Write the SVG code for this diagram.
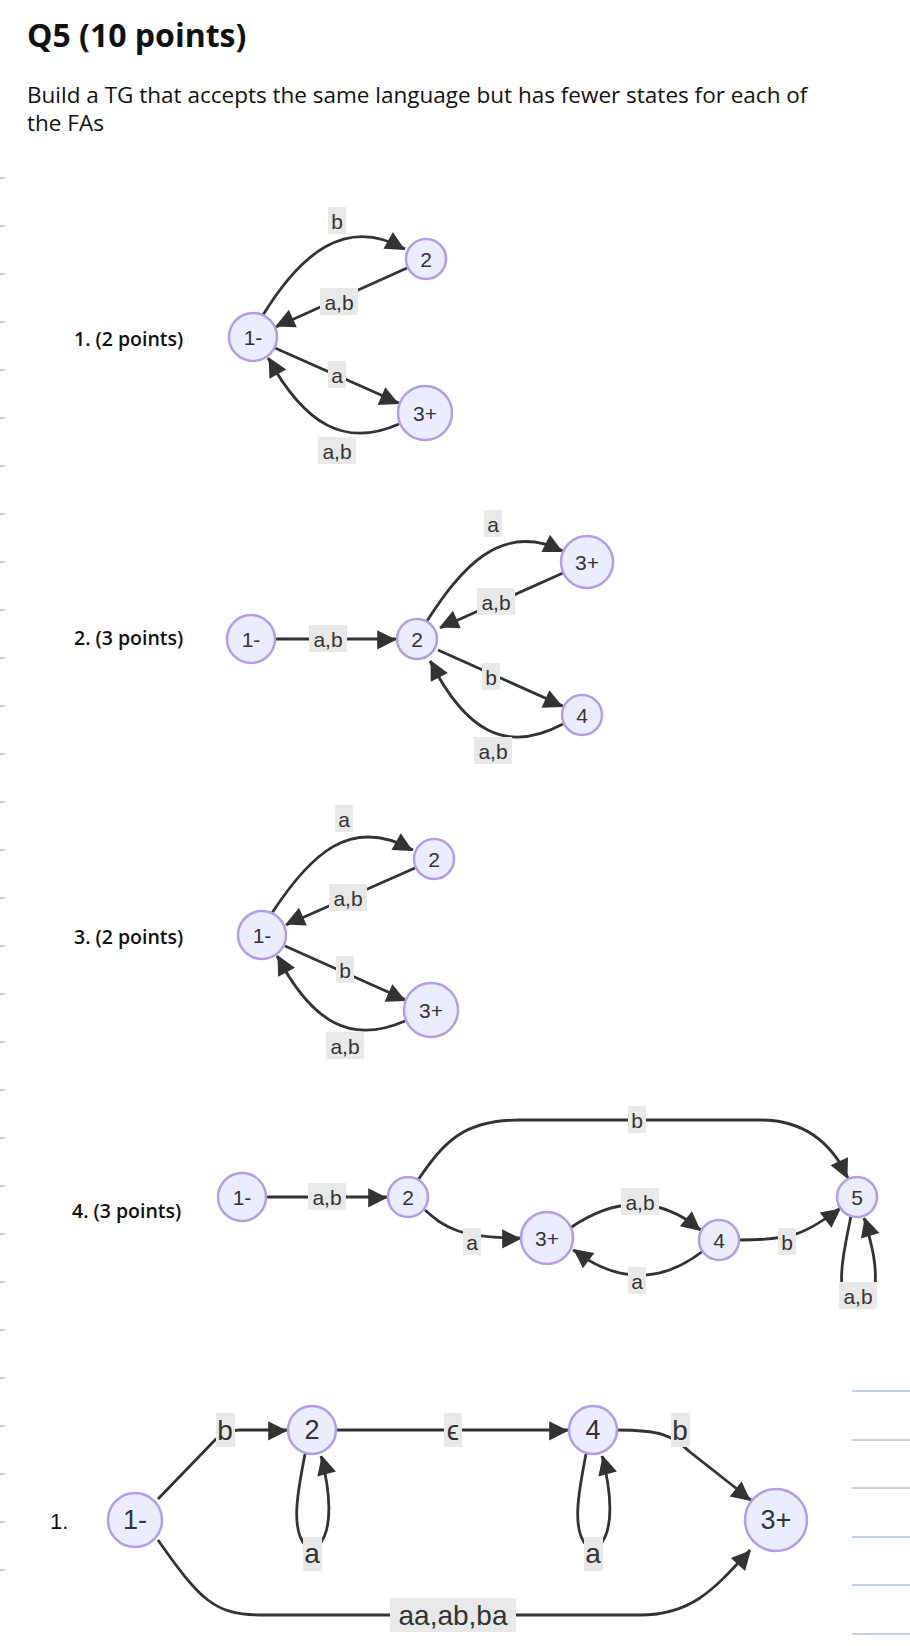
<svg xmlns="http://www.w3.org/2000/svg" width="910" height="1646" viewBox="0 0 910 1646">
<style>
.n{fill:#ececff;stroke:#b39ce8;stroke-width:2.5}
.nt{font-family:"Liberation Sans",Arial,sans-serif;font-size:21px;fill:#333;text-anchor:middle;dominant-baseline:central}
.nb{font-size:27px}
.e{fill:none;stroke:#333;stroke-width:2.8}
.lb{fill:#e8e8e8}
.lt{font-family:"Liberation Sans",Arial,sans-serif;font-size:21px;fill:#333;text-anchor:middle;dominant-baseline:central}
.lg{font-size:28px}
.q{font-family:"Open Sans","Noto Sans",sans-serif;fill:#111}
.tick{stroke:#8fa0c8;stroke-width:1}
</style>
<defs>
<marker id="ah" viewBox="0 0 10 10" refX="9" refY="5" markerWidth="6" markerHeight="6" markerUnits="userSpaceOnUse" orient="auto" style="overflow:visible">
<path d="M0,0 L10,5 L0,10 z" fill="#333" transform="scale(3.2) translate(-7,-3)"/>
</marker>
</defs>
<rect width="910" height="1646" fill="#fff"/>
<text class="q" x="27" y="47" font-size="32" font-weight="bold">Q5 (10 points)</text>
<text class="q" x="27" y="103" font-size="22.5">Build a TG that accepts the same language but has fewer states for each of</text>
<text class="q" x="27" y="131" font-size="22.5">the FAs</text>
<g id="ticks">
<line class="tick" x1="0" y1="178" x2="5" y2="178"/><line class="tick" x1="0" y1="226" x2="5" y2="226"/><line class="tick" x1="0" y1="274" x2="5" y2="274"/><line class="tick" x1="0" y1="322" x2="5" y2="322"/><line class="tick" x1="0" y1="370" x2="5" y2="370"/><line class="tick" x1="0" y1="418" x2="5" y2="418"/><line class="tick" x1="0" y1="466" x2="5" y2="466"/><line class="tick" x1="0" y1="514" x2="5" y2="514"/><line class="tick" x1="0" y1="562" x2="5" y2="562"/><line class="tick" x1="0" y1="610" x2="5" y2="610"/><line class="tick" x1="0" y1="658" x2="5" y2="658"/><line class="tick" x1="0" y1="706" x2="5" y2="706"/><line class="tick" x1="0" y1="754" x2="5" y2="754"/><line class="tick" x1="0" y1="802" x2="5" y2="802"/><line class="tick" x1="0" y1="850" x2="5" y2="850"/><line class="tick" x1="0" y1="898" x2="5" y2="898"/><line class="tick" x1="0" y1="946" x2="5" y2="946"/><line class="tick" x1="0" y1="994" x2="5" y2="994"/><line class="tick" x1="0" y1="1042" x2="5" y2="1042"/><line class="tick" x1="0" y1="1090" x2="5" y2="1090"/><line class="tick" x1="0" y1="1138" x2="5" y2="1138"/><line class="tick" x1="0" y1="1186" x2="5" y2="1186"/><line class="tick" x1="0" y1="1234" x2="5" y2="1234"/><line class="tick" x1="0" y1="1282" x2="5" y2="1282"/><line class="tick" x1="0" y1="1330" x2="5" y2="1330"/><line class="tick" x1="0" y1="1378" x2="5" y2="1378"/><line class="tick" x1="0" y1="1426" x2="5" y2="1426"/><line class="tick" x1="0" y1="1474" x2="5" y2="1474"/><line class="tick" x1="0" y1="1522" x2="5" y2="1522"/><line class="tick" x1="0" y1="1570" x2="5" y2="1570"/>
<line class="tick" x1="852" y1="1391" x2="910" y2="1391"/><line class="tick" x1="852" y1="1440" x2="910" y2="1440"/><line class="tick" x1="852" y1="1488" x2="910" y2="1488"/><line class="tick" x1="852" y1="1537" x2="910" y2="1537"/><line class="tick" x1="852" y1="1585" x2="910" y2="1585"/><line class="tick" x1="852" y1="1634" x2="910" y2="1634"/>
</g>
<g class="q" font-size="19.5" font-weight="600">
<text x="74" y="346">1.  (2 points)</text>
<text x="74" y="645">2.  (3 points)</text>
<text x="74" y="944">3.  (2 points)</text>
<text x="72" y="1218">4.  (3 points)</text>
<text x="50" y="1529" font-family="Liberation Sans,sans-serif" font-weight="normal" font-size="22">1.</text>
</g>
<g id="connectors">
<path class="e" d="M263,315 C300,255 345,215 405,249" marker-end="url(#ah)"/>
<path class="e" d="M407,268 L276,327" marker-end="url(#ah)"/>
<path class="e" d="M275,348 L399,403" marker-end="url(#ah)"/>
<path class="e" d="M399,424 C345,448 305,425 268,358" marker-end="url(#ah)"/>
<path class="e" d="M274,639 L396,639" marker-end="url(#ah)"/>
<path class="e" d="M427,621 C460,570 500,520 563,551" marker-end="url(#ah)"/>
<path class="e" d="M563,573 L440,628" marker-end="url(#ah)"/>
<path class="e" d="M438,650 L563,706" marker-end="url(#ah)"/>
<path class="e" d="M563,724 C505,755 465,730 430,661" marker-end="url(#ah)"/>
<path class="e" d="M272,913 C310,855 350,815 413,850" marker-end="url(#ah)"/>
<path class="e" d="M415,868 L286,925" marker-end="url(#ah)"/>
<path class="e" d="M285,946 L406,1000" marker-end="url(#ah)"/>
<path class="e" d="M405,1021 C350,1045 312,1022 277,956" marker-end="url(#ah)"/>
<path class="e" d="M265,1197 L387,1197" marker-end="url(#ah)"/>
<path class="e" d="M418,1180 C445,1140 465,1120 520,1120 L760,1120 C810,1120 835,1150 848,1178" marker-end="url(#ah)"/>
<path class="e" d="M425,1210 C445,1228 460,1238 521,1238" marker-end="url(#ah)"/>
<path class="e" d="M570,1228 Q640,1180 701,1230" marker-end="url(#ah)"/>
<path class="e" d="M703,1251 Q640,1300 573,1250" marker-end="url(#ah)"/>
<path class="e" d="M739,1240 C790,1240 805,1235 840,1208" marker-end="url(#ah)"/>
<path class="e" d="M851,1216 C845,1245 840,1270 842,1285"/>
<path class="e" d="M875,1285 C877,1265 872,1245 864,1218" marker-end="url(#ah)"/>
<path class="e" d="M158,1499 L215,1440 Q225,1430 240,1430 L287,1430" marker-end="url(#ah)"/>
<path class="e" d="M336,1430 L568,1430" marker-end="url(#ah)"/>
<path class="e" d="M617,1430 C660,1430 672,1435 690,1452 L751,1500" marker-end="url(#ah)"/>
<path class="e" d="M158,1540 C200,1600 215,1615 260,1615 L640,1615 C690,1615 712,1592 750,1550" marker-end="url(#ah)"/>
<path class="e" d="M305,1454 C298,1490 290,1530 306,1546"/>
<path class="e" d="M318,1546 C334,1530 330,1490 321,1456" marker-end="url(#ah)"/>
<path class="e" d="M586,1454 C579,1490 571,1530 587,1546"/>
<path class="e" d="M599,1546 C615,1530 611,1490 602,1456" marker-end="url(#ah)"/>
</g>
<g id="labels">
<rect class="lb" x="328" y="207" width="18" height="27"/><text class="lt" x="337" y="221">b</text>
<rect class="lb" x="320" y="288" width="38" height="27"/><text class="lt" x="339" y="302">a,b</text>
<rect class="lb" x="328" y="361" width="18" height="27"/><text class="lt" x="337" y="375">a</text>
<rect class="lb" x="318" y="437" width="38" height="27"/><text class="lt" x="337" y="451">a,b</text>
<rect class="lb" x="309" y="625" width="38" height="27"/><text class="lt" x="328" y="639">a,b</text>
<rect class="lb" x="484" y="510" width="18" height="27"/><text class="lt" x="493" y="524">a</text>
<rect class="lb" x="477" y="588" width="38" height="27"/><text class="lt" x="496" y="602">a,b</text>
<rect class="lb" x="482" y="663" width="18" height="27"/><text class="lt" x="491" y="677">b</text>
<rect class="lb" x="474" y="737" width="38" height="27"/><text class="lt" x="493" y="751">a,b</text>
<rect class="lb" x="335" y="805" width="18" height="27"/><text class="lt" x="344" y="819">a</text>
<rect class="lb" x="329" y="884" width="38" height="27"/><text class="lt" x="348" y="898">a,b</text>
<rect class="lb" x="336" y="956" width="18" height="27"/><text class="lt" x="345" y="970">b</text>
<rect class="lb" x="326" y="1032" width="38" height="27"/><text class="lt" x="345" y="1046">a,b</text>
<rect class="lb" x="308" y="1183" width="38" height="27"/><text class="lt" x="327" y="1197">a,b</text>
<rect class="lb" x="628" y="1106" width="18" height="27"/><text class="lt" x="637" y="1120">b</text>
<rect class="lb" x="463" y="1228" width="18" height="27"/><text class="lt" x="472" y="1242">a</text>
<rect class="lb" x="621" y="1188" width="38" height="27"/><text class="lt" x="640" y="1202">a,b</text>
<rect class="lb" x="628" y="1267" width="18" height="27"/><text class="lt" x="637" y="1281">a</text>
<rect class="lb" x="778" y="1228" width="18" height="27"/><text class="lt" x="787" y="1242">b</text>
<rect class="lb" x="839" y="1282" width="38" height="27"/><text class="lt" x="858" y="1296">a,b</text>
<rect class="lb" x="216" y="1413" width="19" height="34"/><text class="lt lg" x="225" y="1430">b</text>
<rect class="lb" x="444" y="1413" width="18" height="34"/><text class="lt lg" x="453" y="1430">ϵ</text>
<rect class="lb" x="671" y="1413" width="19" height="34"/><text class="lt lg" x="680" y="1430">b</text>
<rect class="lb" x="303" y="1537" width="19" height="34"/><text class="lt lg" x="312" y="1553">a</text>
<rect class="lb" x="584" y="1537" width="19" height="34"/><text class="lt lg" x="593" y="1553">a</text>
<rect class="lb" x="390" y="1598" width="126" height="34"/><text class="lt lg" x="453" y="1615">aa,ab,ba</text>
</g>
<g id="d1n1"><circle class="n" cx="253" cy="337" r="24"/><text class="nt" x="253" y="337">1-</text></g>
<g id="d1n2"><circle class="n" cx="426" cy="259" r="20"/><text class="nt" x="426" y="259">2</text></g>
<g id="d1n3"><circle class="n" cx="425" cy="413" r="27"/><text class="nt" x="425" y="413">3+</text></g>
<g id="d2n1"><circle class="n" cx="251" cy="639" r="24"/><text class="nt" x="251" y="639">1-</text></g>
<g id="d2n2"><circle class="n" cx="417" cy="639" r="20"/><text class="nt" x="417" y="639">2</text></g>
<g id="d2n3"><circle class="n" cx="587" cy="562" r="26"/><text class="nt" x="587" y="562">3+</text></g>
<g id="d2n4"><circle class="n" cx="582" cy="715" r="20"/><text class="nt" x="582" y="715">4</text></g>
<g id="d3n1"><circle class="n" cx="262" cy="935" r="24"/><text class="nt" x="262" y="935">1-</text></g>
<g id="d3n2"><circle class="n" cx="434" cy="859" r="20"/><text class="nt" x="434" y="859">2</text></g>
<g id="d3n3"><circle class="n" cx="431" cy="1010" r="27"/><text class="nt" x="431" y="1010">3+</text></g>
<g id="d4n1"><circle class="n" cx="242" cy="1197" r="24"/><text class="nt" x="242" y="1197">1-</text></g>
<g id="d4n2"><circle class="n" cx="408" cy="1197" r="20"/><text class="nt" x="408" y="1197">2</text></g>
<g id="d4n3"><circle class="n" cx="547" cy="1238" r="26"/><text class="nt" x="547" y="1238">3+</text></g>
<g id="d4n4"><circle class="n" cx="719" cy="1240" r="20"/><text class="nt" x="719" y="1240">4</text></g>
<g id="d4n5"><circle class="n" cx="857" cy="1197" r="20"/><text class="nt" x="857" y="1197">5</text></g>
<g id="d5n1"><circle class="n" cx="135" cy="1520" r="27"/><text class="nt nb" x="135" y="1520">1-</text></g>
<g id="d5n2"><circle class="n" cx="312" cy="1430" r="24"/><text class="nt nb" x="312" y="1430">2</text></g>
<g id="d5n4"><circle class="n" cx="593" cy="1430" r="24"/><text class="nt nb" x="593" y="1430">4</text></g>
<g id="d5n3"><circle class="n" cx="776" cy="1520" r="31"/><text class="nt nb" x="776" y="1520">3+</text></g>
</svg>
